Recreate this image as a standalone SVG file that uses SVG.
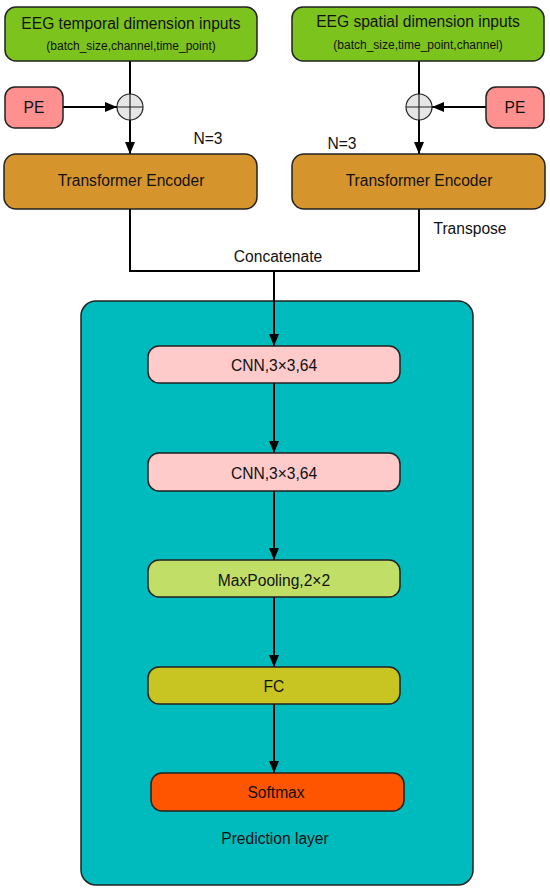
<svg xmlns="http://www.w3.org/2000/svg" width="550" height="892" viewBox="0 0 550 892">
<defs>
<style>
text{font-family:"Liberation Sans",Arial,sans-serif;fill:#111;text-anchor:middle}
.t{font-size:15.6px}
.s{font-size:12px}
.n{stroke:#222;stroke-width:1.5}
.c{fill:none;stroke:#000;stroke-width:2}
</style>
<marker id="ah" viewBox="0 0 12 10" refX="12" refY="5" markerWidth="12" markerHeight="10" markerUnits="userSpaceOnUse" orient="auto">
<path d="M0,0 L12,5 L0,10 Z" fill="#000"/>
</marker>
</defs>
<rect width="550" height="892" fill="#fff"/>
<g id="prediction-layer">
<rect class="n" x="81" y="301" width="392" height="584" rx="15" fill="#00BBBE" stroke-width="2"/>
<text class="t" x="275" y="844">Prediction layer</text>
</g>
<g id="connectors">
<line class="c" x1="130" y1="61" x2="130" y2="94"/>
<line class="c" x1="130" y1="120" x2="130" y2="154" marker-end="url(#ah)"/>
<line class="c" x1="63" y1="107" x2="117" y2="107" marker-end="url(#ah)"/>
<line class="c" x1="419" y1="61" x2="419" y2="94"/>
<line class="c" x1="419" y1="120" x2="419" y2="154" marker-end="url(#ah)"/>
<line class="c" x1="486" y1="107" x2="432" y2="107" marker-end="url(#ah)"/>
<polyline class="c" points="130,209 130,271 419,271 419,209"/>
<line class="c" x1="274" y1="271" x2="274" y2="346" marker-end="url(#ah)"/>
<line class="c" x1="274" y1="383" x2="274" y2="453" marker-end="url(#ah)"/>
<line class="c" x1="274" y1="491" x2="274" y2="560" marker-end="url(#ah)"/>
<line class="c" x1="274" y1="597" x2="274" y2="667" marker-end="url(#ah)"/>
<line class="c" x1="274" y1="704" x2="274" y2="773" marker-end="url(#ah)"/>
<text class="t" x="278" y="262">Concatenate</text>
<text class="t" x="470" y="234">Transpose</text>
<text class="t" x="208" y="144">N=3</text>
<text class="t" x="342" y="149">N=3</text>
</g>
<g id="temporal-input">
<rect class="n" x="5" y="7" width="252" height="54" rx="11" fill="#7DC31E"/>
<text class="t" x="131" y="29">EEG temporal dimension inputs</text>
<text class="s" x="131" y="50">(batch_size,channel,time_point)</text>
</g>
<g id="spatial-input">
<rect class="n" x="292" y="7" width="252" height="54" rx="11" fill="#7DC31E"/>
<text class="t" x="418" y="27">EEG spatial dimension inputs</text>
<text class="s" x="418" y="49">(batch_size,time_point,channel)</text>
</g>
<g id="pe-left">
<rect class="n" x="5" y="87" width="58" height="41" rx="10" fill="#FF9090" stroke-width="2"/>
<text class="t" x="34" y="113">PE</text>
</g>
<g id="pe-right">
<rect class="n" x="486" y="87" width="58" height="41" rx="10" fill="#FF9090" stroke-width="2"/>
<text class="t" x="515" y="113">PE</text>
</g>
<g id="add-left">
<circle cx="130" cy="107" r="13" fill="#E6E6E6" stroke="#222" stroke-width="1.2"/>
<path d="M117,107 H143 M130,94 V120" stroke="#222" stroke-width="1.2"/>
</g>
<g id="add-right">
<circle cx="419" cy="107" r="13" fill="#E6E6E6" stroke="#222" stroke-width="1.2"/>
<path d="M406,107 H432 M419,94 V120" stroke="#222" stroke-width="1.2"/>
</g>
<g id="encoder-left">
<rect class="n" x="4" y="154" width="253" height="55" rx="12" fill="#D6952C"/>
<text class="t" x="131" y="186">Transformer Encoder</text>
</g>
<g id="encoder-right">
<rect class="n" x="292" y="154" width="253" height="55" rx="12" fill="#D6952C"/>
<text class="t" x="419" y="186">Transformer Encoder</text>
</g>
<g id="cnn1">
<rect class="n" x="148" y="346" width="252" height="37" rx="11" fill="#FFCACA"/>
<text class="t" x="274" y="371">CNN,3×3,64</text>
</g>
<g id="cnn2">
<rect class="n" x="148" y="453" width="252" height="38" rx="11" fill="#FFCACA"/>
<text class="t" x="274" y="479">CNN,3×3,64</text>
</g>
<g id="maxpool">
<rect class="n" x="148" y="560" width="252" height="37" rx="11" fill="#C1DF66"/>
<text class="t" x="274" y="586">MaxPooling,2×2</text>
</g>
<g id="fc">
<rect class="n" x="148" y="667" width="252" height="37" rx="11" fill="#C8C422"/>
<text class="t" x="274" y="692">FC</text>
</g>
<g id="softmax">
<rect class="n" x="151" y="773" width="253" height="38" rx="11" fill="#FF5500"/>
<text class="t" x="276" y="798">Softmax</text>
</g>
</svg>
